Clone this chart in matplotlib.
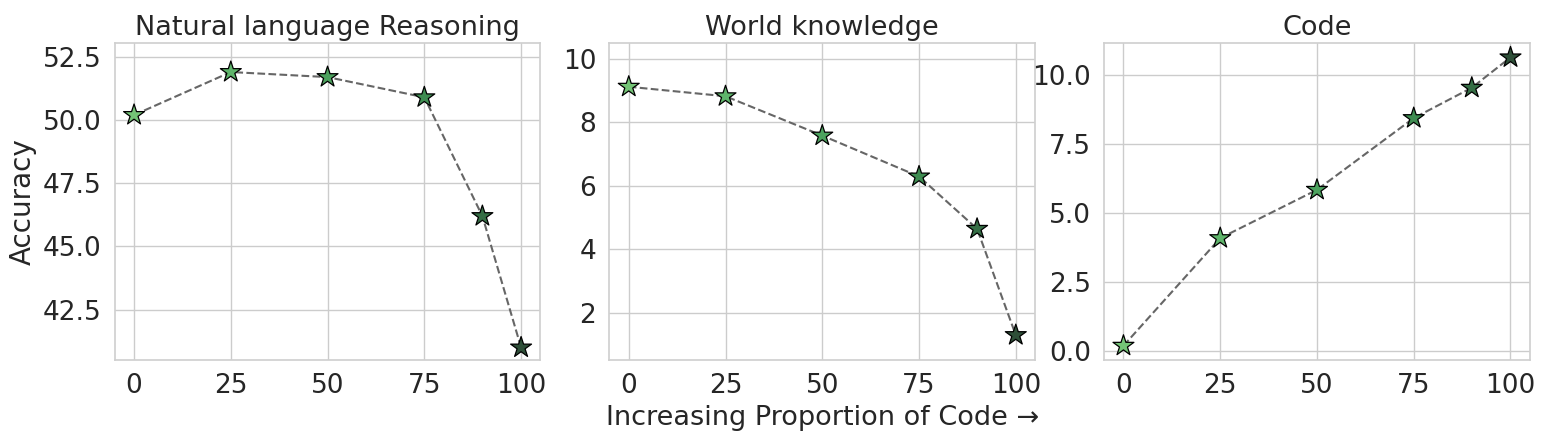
import matplotlib
matplotlib.use("Agg")
import matplotlib.pyplot as plt
from matplotlib.ticker import MultipleLocator
import seaborn as sns

code_share = [0, 25, 50, 75, 90, 100]
nl_reasoning = [50.2, 51.9, 51.7, 50.9, 46.2, 41.0]
world_knowledge = [9.12, 8.82, 7.58, 6.29, 4.64, 1.29]
code_acc = [0.2, 4.1, 5.85, 8.45, 9.55, 10.65]

titles = ["Natural language Reasoning", "World knowledge", "Code"]
point_colors = ["#74c476", "#5fb56b", "#4ca25e", "#3e8c51", "#356e45", "#2e4f38"]


def main():
    sns.set_theme(style="whitegrid", font_scale=1.6)
    plt.rcParams['font.family'] = ['DejaVu Sans']

    fig, axes = plt.subplots(1, 3, figsize=(15.5, 4.43), dpi=100)
    fig.subplots_adjust(left=0.074, right=0.987, top=0.903, bottom=0.187, wspace=0.162)

    series = [nl_reasoning, world_knowledge, code_acc]
    for ax, ys, title in zip(axes, series, titles):
        ax.plot(code_share, ys, linestyle="--", color="#666666", lw=1.5, zorder=2)
        ax.scatter(code_share, ys, marker="*", s=250, c=point_colors,
                   edgecolors="black", linewidths=0.9, zorder=3)
        ax.set_title(title, fontsize=19.5)
        ax.set_xticks([0, 25, 50, 75, 100])
        ax.tick_params(labelsize=19)
        for sp in ax.spines.values():
            sp.set_color("#d0d0d0")

    axes[0].set_ylim(40.5, 53.05)
    axes[1].set_ylim(0.5, 10.5)
    axes[2].yaxis.set_major_locator(MultipleLocator(2.5))
    axes[0].set_ylabel("Accuracy", fontsize=20)
    axes[1].set_xlabel("Increasing Proportion of Code \u2192", fontsize=19.5)

    fig.savefig("out.png", dpi=100)


if __name__ == '__main__':
    main()
